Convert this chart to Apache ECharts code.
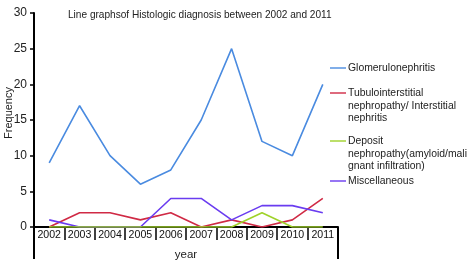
<!DOCTYPE html>
<html><head><meta charset="utf-8">
<script src="https://cdn.jsdelivr.net/npm/echarts@6/dist/echarts.min.js"></script>
<style>html,body{margin:0;padding:0;background:#fff}#c{width:474px;height:268px}</style>
</head><body><div id="c"></div>
<script>
const years = ['2002','2003','2004','2005','2006','2007','2008','2009','2010','2011'];
const glomerulo = [9,17,10,6,8,15,25,12,10,20];
const tubulo = [0,2,2,1,2,0,1,0,1,4];
const deposit = [0,0,0,0,0,0,0,2,0,0];
const misc = [1,0,0,0,4,4,1,3,3,2];
const yTicks = [0,5,10,15,20,25,30];
const names = ['Glomerulonephritis','Tubulointerstitial\nnephropathy/ Interstitial\nnephritis','Deposit\nnephropathy(amyloid/mali\ngnant infiltration)','Miscellaneous'];
const colors = ['#4a8be0','#d02a45','#9fd22a','#6a3cf0'];
const values = [glomerulo, tubulo, deposit, misc];

const FONT = 'Liberation Sans, Arial, sans-serif';
const LH = 12.8;
const iconY = [68, 93, 141, 181];
const chart = echarts.init(document.getElementById('c'), null, {renderer:'canvas'});
const legends = names.map((n, i) => {
  const lines = n.split('\n').length;
  const total = 2*lines - 1;
  return {
    data: [n], left: 330, top: iconY[i] - total*LH/2, padding: 0,
    itemWidth: 16, itemHeight: 10, itemGap: 2, icon: 'path://M0,4.3L16,4.3L16,5.7L0,5.7Z',
    formatter: v => '\n'.repeat(v.split('\n').length - 1) + v,
    textStyle: {fontFamily: FONT, fontSize: 10.4, color: '#222', lineHeight: LH, padding:[0,0,0,-3]},
    selectedMode: false
  };
});
chart.setOption({
  animation: false,
  title: {text: 'Line graphsof Histologic diagnosis between 2002 and 2011', left: 63, top: 5,
    textStyle: {fontFamily: FONT, fontSize: 10.1, fontWeight: 'normal', color: '#222'}},
  legend: legends,
  grid: {left: 34, right: 136, top: 13, bottom: 41, containLabel: false, outerBoundsMode: 'none'},
  xAxis: {
    type: 'category', data: years, boundaryGap: true,
    name: 'year', nameLocation: 'middle', nameGap: 22, nameMoveOverlap: false,
    nameTextStyle: {fontFamily: FONT, fontSize: 11.5, color: '#222'},
    axisLine: {lineStyle: {color: '#000', width: 2}},
    axisTick: {show: true, interval: 0, length: 13, lineStyle: {color: '#000', width: 1.5}},
    axisLabel: {interval: 0, margin: 3, fontFamily: FONT, fontSize: 10.6, color: '#111'}
  },
  yAxis: {
    type: 'value', min: 0, max: 30, interval: 5,
    name: 'Frequency', nameLocation: 'middle', nameGap: 20, nameMoveOverlap: false,
    nameTextStyle: {fontFamily: FONT, fontSize: 11, color: '#222', padding: [0,0,0,14]},
    splitLine: {show: false},
    axisLine: {show: true, lineStyle: {color: '#000', width: 2}},
    axisTick: {show: true, length: 4, lineStyle: {color: '#000', width: 1.5}},
    axisLabel: {margin: 7, fontFamily: FONT, fontSize: 12, color: '#222'}
  },
  series: values.map((d, i) => ({
    name: names[i], type: 'line', data: d, symbol: 'none',
    lineStyle: {color: colors[i], width: 1.6}, itemStyle: {color: colors[i]}, z: 3 + (i===2?1:0)
  }))
});
const bottomPx = chart.convertToPixel({yAxisIndex: 0}, -4.5);
const zeroPx = chart.convertToPixel({yAxisIndex: 0}, 0);
const firstC = chart.convertToPixel({xAxisIndex: 0}, 0);
const secondC = chart.convertToPixel({xAxisIndex: 0}, 1);
const lastC = chart.convertToPixel({xAxisIndex: 0}, years.length - 1);
const half = (secondC - firstC)/2;
const lx = firstC - half, rx = lastC + half;
chart.setOption({graphic: [
  {type: 'line', shape: {x1: lx, y1: zeroPx, x2: lx, y2: bottomPx}, style: {stroke: '#000', lineWidth: 2}},
  {type: 'line', shape: {x1: rx, y1: zeroPx, x2: rx, y2: bottomPx}, style: {stroke: '#000', lineWidth: 2}}
]});
</script></body></html>
